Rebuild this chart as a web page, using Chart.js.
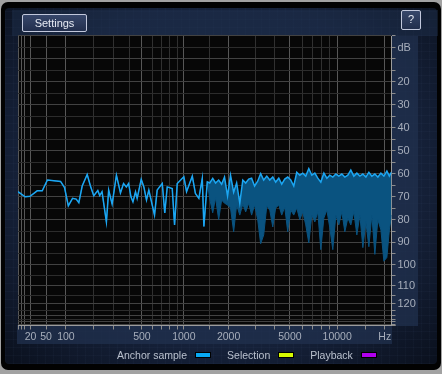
<!DOCTYPE html>
<html>
<head>
<meta charset="utf-8">
<script src="https://cdn.jsdelivr.net/npm/chart.js@4.4.1/dist/chart.umd.min.js"></script>
<style>
  html, body { margin: 0; padding: 0; }
  body {
    width: 442px; height: 374px; overflow: hidden; position: relative;
    background: #a2a2a2;
    font-family: "Liberation Sans", Arial, sans-serif;
  }
  #frame { position: absolute; left: 1px; top: 2px; width: 440px; height: 368px; background: #020202; border-radius: 7px; }
  #panel {
    position: absolute; left: 5px; top: 8px; width: 432px; height: 356px; border-radius: 4px;
    background:
      repeating-linear-gradient(0deg, rgba(120,150,200,0.035) 0 1px, transparent 1px 8px),
      repeating-linear-gradient(90deg, rgba(120,150,200,0.035) 0 1px, transparent 1px 8px),
      radial-gradient(ellipse at 50% 45%, #1a2844 0%, #16223b 62%, #0a101d 100%);
  }
  .strip { position: absolute; background: rgba(32, 48, 78, 0.75); }
  #ystrip { left: 391px; top: 36px; width: 27px; height: 290px; }
  #xstrip { left: 17px; top: 325px; width: 375px; height: 19px; }
  #topstrip { left: 12px; top: 10px; width: 426px; height: 26px; background: rgba(32, 48, 78, 0.45); }
  canvas { position: absolute; left: 0; top: 0; }
  .btn {
    position: absolute; box-sizing: border-box; border: 1px solid #c2c8dc; border-radius: 2px;
    background: linear-gradient(#37476a, #222f4d); color: #e6eaf3;
    font-size: 11px; text-align: center;
  }
  #settings { left: 22px; top: 14px; width: 65px; height: 18px; line-height: 16px; }
  #help { left: 401px; top: 10px; width: 20px; height: 20px; line-height: 17px; }
  #legend { position: absolute; left: 117px; top: 349px; display: flex; align-items: center; font-size: 10.5px; color: #b9c0cd; line-height: 12px; }
  .item { display: flex; align-items: center; margin-right: 16px; }
  .swatch { width: 14px; height: 4px; border: 1px solid #000; margin-left: 8px; }
</style>
</head>
<body>
<div id="frame"></div>
<div id="panel"></div>
<div class="strip" id="topstrip"></div>
<div class="strip" id="ystrip"></div>
<div class="strip" id="xstrip"></div>
<canvas id="spec" width="442" height="374"></canvas>
<div class="btn" id="settings">Settings</div>
<div class="btn" id="help">?</div>
<div id="legend"></div>
<script>
// spectrum: frequency (Hz), peak level and floor level (dB below full scale)
const freqHz = [
  0, 11, 19, 32, 42, 53, 85, 96, 107, 120, 132, 141, 153, 172, 185, 199, 217, 226, 237, 259,
  271, 290, 315, 340, 360, 379, 395, 412, 427, 447, 460, 494, 517, 541, 563, 620, 648, 705, 735, 765,
  830, 862, 900, 1000, 1044, 1143, 1200, 1267, 1336, 1370, 1444,
  1500, 1570, 1640, 1720, 1800, 1880, 1970, 2060, 2160, 2260, 2370, 2480, 2590, 2710, 2830, 2960,
  3100, 3240, 3390, 3550, 3710, 3880, 4050, 4240, 4430, 4630, 4840, 5060, 5290, 5530, 5780, 6040,
  6310, 6600, 6900, 7210, 7530, 7870, 8230, 8600, 8980, 9380, 9810, 10240, 10700, 11180, 11680,
  12200, 12750, 13320, 13920, 14540, 15190, 15870, 16570, 17310, 18090, 18900, 19740, 20620, 21380, 22050
];
const peakDb = [
  67.8, 70, 69.8, 67.4, 67.4, 62.7, 63.3, 66, 74, 70.7, 71, 72.6, 65.3, 60.3, 65.3, 69.5, 67.3, 69.5, 67.8, 81,
  67.1, 73.2, 60.6, 68.3, 64.2, 65.7, 64.2, 70, 72.2, 67.8, 70.7, 62.4, 65.7, 71.4, 67.1, 78, 67.1, 64.2, 77, 65.7,
  66.4, 82.3, 64.2, 61.3, 67.8, 61, 68.5, 70.7, 62, 83, 63.5,
  64, 62, 64, 62.7, 64.5, 61.4, 69.7, 60.6, 68, 64, 72.8, 62.7, 64, 62.3, 61.9, 65.3,
  63.2, 59.9, 62.7, 61, 62.7, 61.4, 63.6, 61.9, 64.5, 62.3, 61.4, 62.7, 65.3, 59.3, 60.6, 59.7,
  61, 57.7, 60.6, 59.7, 61.9, 63.6, 59.7, 61.9, 60.6, 61.4, 60.1, 61, 60.1, 61.4, 60.6,
  58.4, 61, 59.7, 61, 60.1, 61.4, 59.3, 61, 60.1, 61.4, 59.7, 61, 58.8, 61, 59.3
];
const floorDb = [
  67.8, 70, 69.8, 67.4, 67.4, 62.7, 63.3, 66, 74, 70.7, 71, 72.6, 65.3, 60.3, 65.3, 69.5, 67.3, 69.5, 67.8, 81,
  67.1, 73.2, 60.6, 68.3, 64.2, 65.7, 64.2, 70, 72.2, 67.8, 70.7, 62.4, 65.7, 71.4, 67.1, 78, 67.1, 64.2, 77, 65.7,
  66.4, 82.3, 64.2, 61.3, 67.8, 61, 68.5, 70.7, 62, 83, 63.5,
  71, 77, 70.5, 80, 71.4, 72.8, 73.6, 74.9, 85.3, 73.6, 78, 73.2, 76.6, 72.8, 78, 73.6,
  80, 90.6, 86.7, 74, 75.8, 83.2, 74.9, 73.6, 78, 74.5, 85.3, 75.8, 78, 74.9, 80, 76.6,
  82.3, 90.2, 78, 81, 76.6, 93.2, 79.3, 75.8, 83.6, 93.2, 78, 82.3, 76.6, 85.3, 79.3,
  82.3, 76.6, 86.7, 78, 92.3, 81, 91.9, 78, 95.3, 80, 84.5, 98.4, 96.7, 84.5, 78
];

const gridHz = [0, 5, 10, 20, 50, 100, 200, 300, 400, 500, 600, 700, 800, 900, 1000, 1500,
  2000, 3000, 4000, 5000, 6000, 7000, 8000, 9000, 10000, 15000, 20000];
const labeledHz = [20, 50, 100, 500, 1000, 2000, 5000, 10000, 20000];
const hzTickText = ['20', '50', '100', '500', '1000', '2000', '5000', '10000', 'Hz'];
const labeledDb = [5, 20, 30, 40, 50, 60, 70, 80, 90, 100, 110, 120];
const dbTickText = ['dB', '20', '30', '40', '50', '60', '70', '80', '90', '100', '110', '120'];
const legendNames = ['Anchor sample', 'Selection', 'Playback'];
const legendColors = ['#08a9f4', '#d6fa00', '#b000f0'];

// the analyser's axes: frequency ~ log(f + 100), level in dB with an amplitude floor
const FLOOR_AMP = 5e-7;
const hzToAxis = hz => Math.log10(hz + 100);
const dbToAxis = db => -20 * Math.log10(Math.pow(10, -db / 20) + FLOOR_AMP);

const gridDb = [];
for (let d = 0; d <= 125; d += 5) gridDb.push(d);
gridDb.push(130, 135, 140, 150, 165, 185);

const points = levels => freqHz.map((f, i) => ({ x: hzToAxis(f), y: dbToAxis(levels[i]) }));
const tickFont = { family: 'Liberation Sans', size: 10.5 };

const plotBg = {
  id: 'plotBg',
  beforeDraw(chart) {
    const a = chart.chartArea, ctx = chart.ctx;
    ctx.save();
    ctx.fillStyle = '#070707';
    ctx.fillRect(a.left, a.top, a.right - a.left, a.bottom - a.top);
    ctx.restore();
  }
};

new Chart(document.getElementById('spec'), {
  type: 'line',
  data: {
    datasets: [
      {
        label: 'floor',
        data: points(floorDb),
        borderColor: '#0a5380',
        backgroundColor: '#0a5380',
        borderWidth: 1,
        pointRadius: 0,
        fill: '+1',
        order: 2
      },
      {
        label: legendNames[0],
        data: points(peakDb),
        borderColor: '#1ca6f2',
        borderWidth: 1.5,
        pointRadius: 0,
        fill: false,
        order: 1
      }
    ]
  },
  options: {
    responsive: false,
    animation: false,
    layout: { padding: { left: 18, top: 36, right: 20.5, bottom: 28.5 } },
    plugins: { legend: { display: false }, tooltip: { enabled: false } },
    scales: {
      x: {
        type: 'linear',
        min: hzToAxis(0),
        max: hzToAxis(22050),
        afterBuildTicks: s => { s.ticks = gridHz.map(f => ({ value: hzToAxis(f) })); },
        afterFit: s => { s.height = 20; },
        ticks: {
          autoSkip: false, maxRotation: 0, padding: 1, color: '#a7aebb', font: tickFont,
          callback: (v, i) => {
            const k = labeledHz.indexOf(gridHz[i]);
            return k < 0 ? '' : hzTickText[k];
          }
        },
        grid: {
          color: c => (labeledHz.includes(gridHz[c.index]) || gridHz[c.index] < 20) ? '#575757' : '#303030',
          tickColor: '#8c8c8c',
          tickLength: 4
        },
        border: { color: '#9c9c9c' }
      },
      y: {
        type: 'linear',
        position: 'right',
        reverse: true,
        min: 0,
        max: dbToAxis(Infinity),
        afterBuildTicks: s => { s.ticks = gridDb.map(d => ({ value: dbToAxis(d) })); },
        afterFit: s => { s.width = 30; },
        ticks: {
          autoSkip: false, padding: 2, color: '#a7aebb', font: { family: 'Liberation Sans', size: 11 },
          callback: (v, i) => {
            const k = labeledDb.indexOf(gridDb[i]);
            return k < 0 ? '' : dbTickText[k];
          }
        },
        grid: {
          color: c => gridDb[c.index] % 10 === 0 ? '#424242' : '#2c2c2c',
          tickColor: '#8c8c8c',
          tickLength: 4
        },
        border: { color: '#9c9c9c' }
      }
    }
  },
  plugins: [plotBg]
});

const legend = document.getElementById('legend');
legendNames.forEach((name, i) => {
  const item = document.createElement('div');
  item.className = 'item';
  const text = document.createElement('span');
  text.textContent = name;
  const sw = document.createElement('span');
  sw.className = 'swatch';
  sw.style.background = legendColors[i];
  item.appendChild(text);
  item.appendChild(sw);
  legend.appendChild(item);
});
</script>
</body>
</html>
